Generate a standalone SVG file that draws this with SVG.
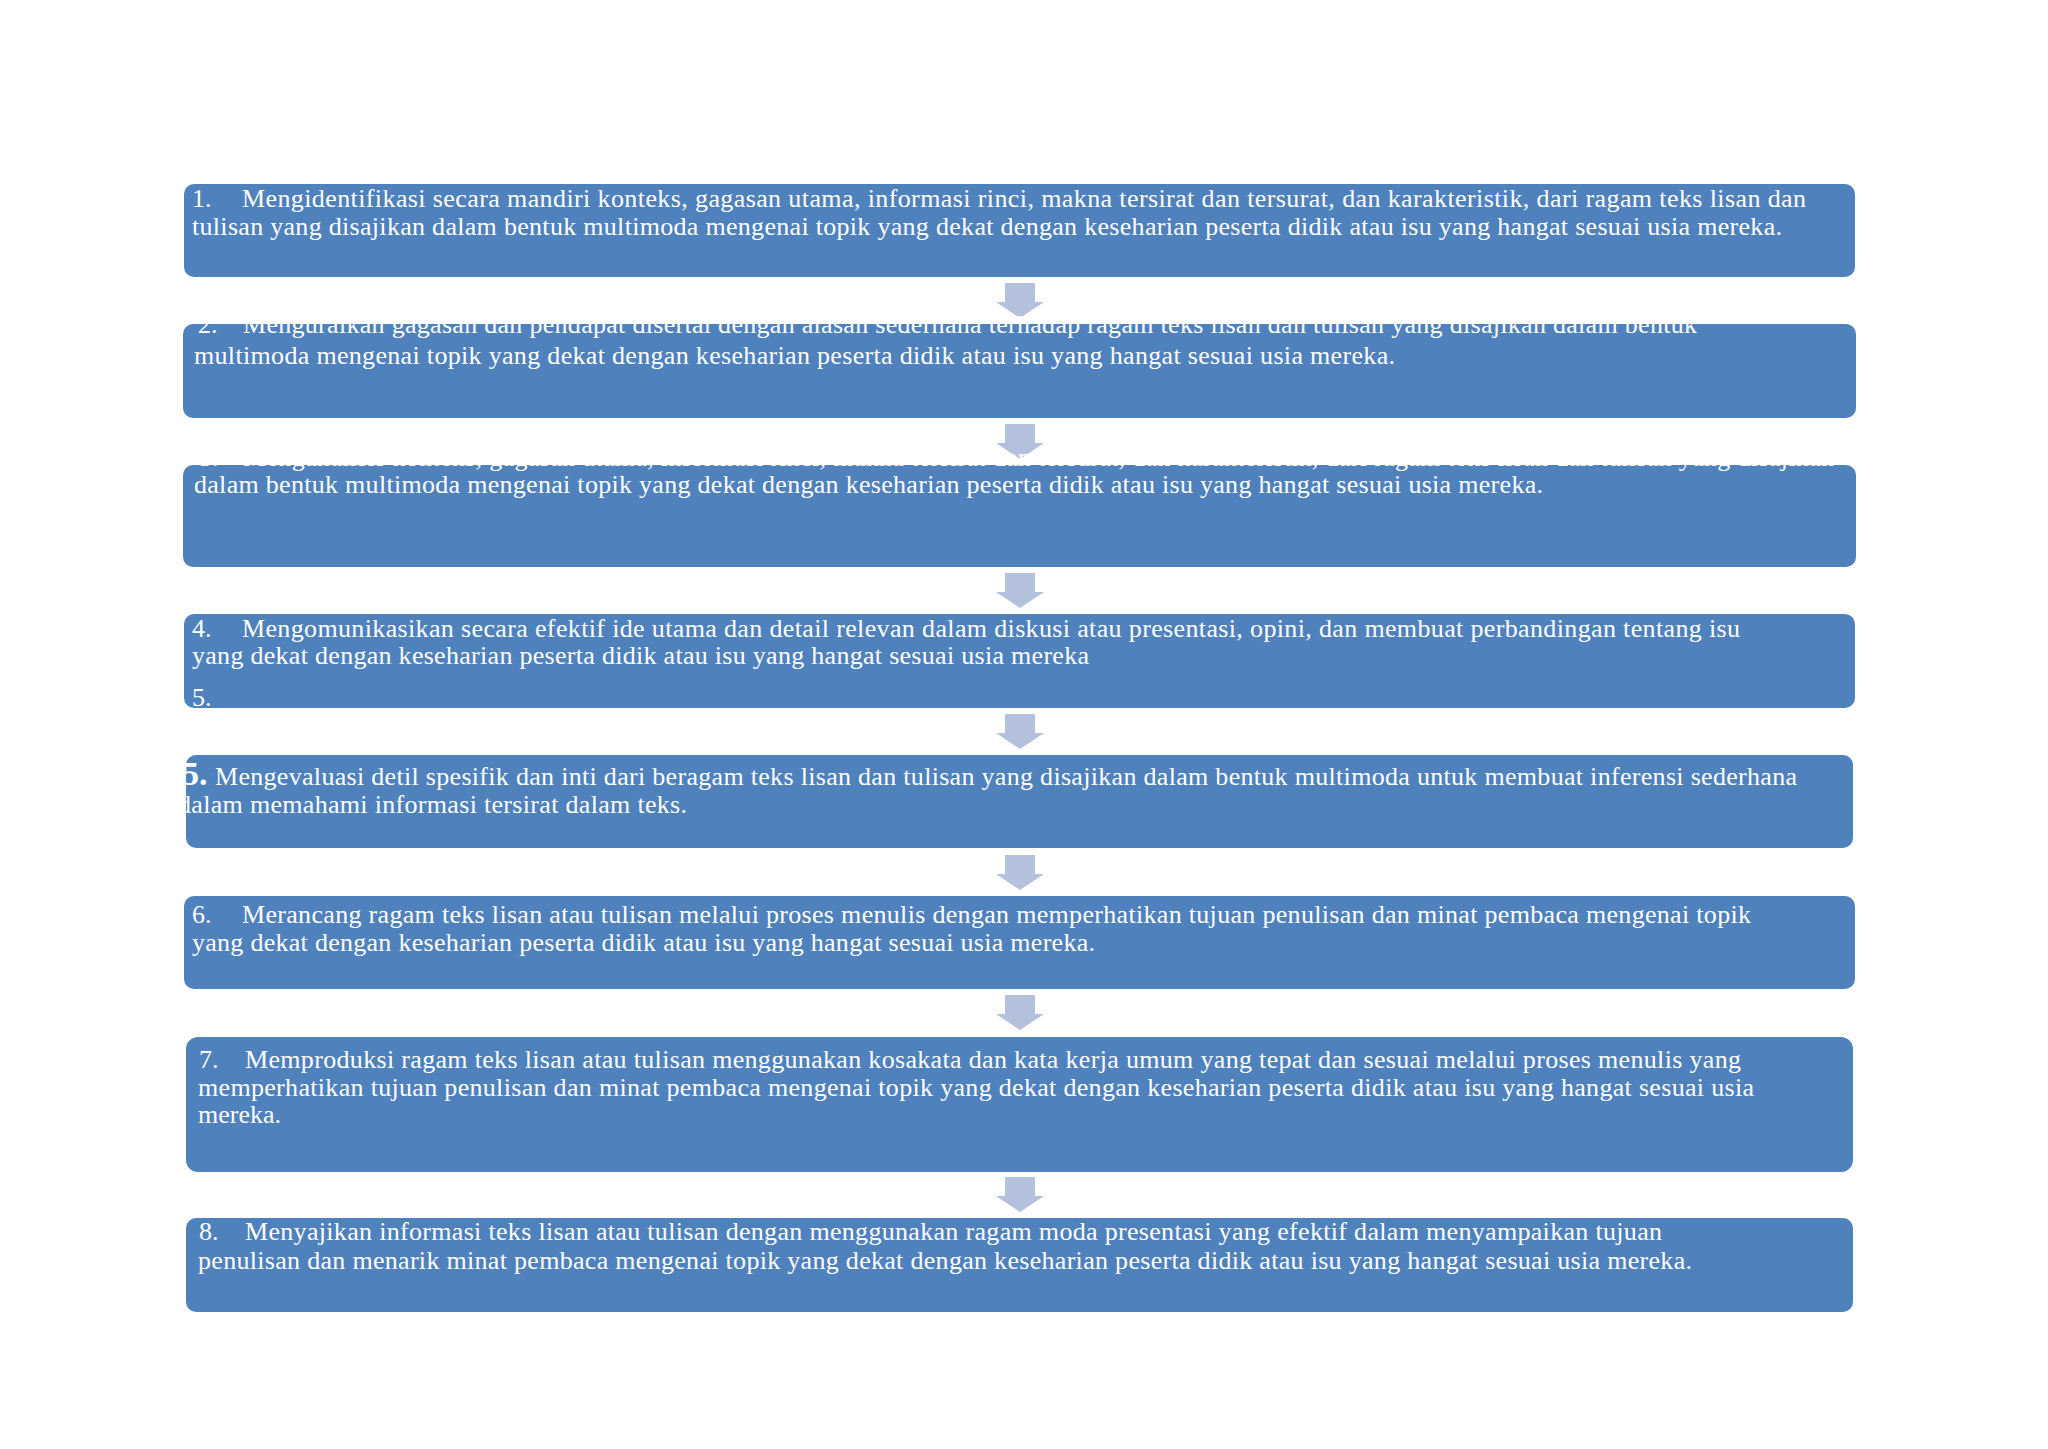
<svg xmlns="http://www.w3.org/2000/svg" width="2048" height="1449" viewBox="0 0 2048 1449">
<style>
.box{fill:#4F81BD;}
.t{font-family:"Liberation Serif","Times New Roman",serif;font-size:26px;fill:#FFFFFF;}
.num5{font-family:"Liberation Serif","Times New Roman",serif;font-size:34px;font-weight:bold;fill:#FFFFFF;}
.arrow{fill:#B4C1DD;}
</style>
<defs>
<path id="arr" d="M-15,0 H15 V19 H24 L0,35 L-24,19 H-15 Z"/>
</defs>
<rect width="2048" height="1449" fill="#FFFFFF"/>

<g id="connectors">
<use href="#arr" class="arrow" x="1020" y="283"/>
<use href="#arr" class="arrow" x="1020" y="424"/>
<use href="#arr" class="arrow" x="1020" y="573"/>
<use href="#arr" class="arrow" x="1020" y="714"/>
<use href="#arr" class="arrow" x="1020" y="855"/>
<use href="#arr" class="arrow" x="1020" y="995"/>
<use href="#arr" class="arrow" x="1020" y="1177"/>
</g>

<g id="node1">
<rect class="box" x="184" y="184" width="1671" height="93" rx="10"/>
<text class="t" x="192" y="207">1.</text>
<text class="t" x="242" y="207" textLength="1564" lengthAdjust="spacing">Mengidentifikasi secara mandiri konteks, gagasan utama, informasi rinci, makna tersirat dan tersurat, dan  karakteristik,  dari ragam teks lisan dan</text>
<text class="t" x="192" y="235" textLength="1590" lengthAdjust="spacing">tulisan yang disajikan dalam bentuk multimoda mengenai topik yang dekat dengan keseharian peserta didik atau isu yang hangat sesuai usia mereka.</text>
</g>

<g id="node2">
<rect class="box" x="183" y="324" width="1673" height="94" rx="10"/>
<text class="t" x="198" y="333">2.</text>
<text class="t" x="243" y="333" textLength="1454" lengthAdjust="spacing">Menguraikan gagasan dan pendapat disertai dengan alasan sederhana terhadap ragam teks lisan dan tulisan yang disajikan dalam bentuk</text>
<text class="t" x="194" y="364" textLength="1201" lengthAdjust="spacing">multimoda mengenai topik yang dekat dengan keseharian peserta didik atau isu yang hangat sesuai usia mereka.</text>
</g>

<g id="node3">
<rect class="box" x="183" y="465" width="1673" height="102" rx="10"/>
<text class="t" x="199" y="466">3.</text>
<text class="t" x="243" y="466" textLength="1591" lengthAdjust="spacing">Menganalisis konteks, gagasan utama, informasi rinci, makna tersirat dan tersurat, dan karakteristik, dari ragam teks lisan dan tulisan yang disajikan</text>
<text class="t" x="194" y="493" textLength="1349" lengthAdjust="spacing">dalam bentuk multimoda mengenai topik yang dekat dengan keseharian peserta didik atau isu yang hangat sesuai usia mereka.</text>
</g>

<g id="node4">
<rect class="box" x="184" y="614" width="1671" height="94" rx="10"/>
<text class="t" x="192" y="637">4.</text>
<text class="t" x="242" y="637" textLength="1498" lengthAdjust="spacing">Mengomunikasikan secara efektif ide utama dan detail relevan dalam  diskusi atau presentasi, opini, dan membuat perbandingan tentang isu</text>
<text class="t" x="192" y="664" textLength="897" lengthAdjust="spacing">yang dekat dengan keseharian peserta didik atau isu yang hangat sesuai usia mereka</text>
<text class="t" x="192" y="706">5.</text>
</g>

<g id="node5">
<rect class="box" x="186" y="755" width="1667" height="93" rx="10"/>
<text class="num5" x="182" y="785">5.</text>
<text class="t" x="215" y="785" textLength="1582" lengthAdjust="spacing">Mengevaluasi detil spesifik dan inti dari beragam teks lisan dan tulisan yang disajikan dalam bentuk multimoda untuk membuat inferensi sederhana</text>
<text class="t" x="178" y="813" textLength="509" lengthAdjust="spacing">dalam memahami informasi tersirat dalam teks.</text>
</g>

<g id="node6">
<rect class="box" x="184" y="896" width="1671" height="93" rx="10"/>
<text class="t" x="192" y="923">6.</text>
<text class="t" x="242" y="923" textLength="1509" lengthAdjust="spacing">Merancang ragam teks lisan atau tulisan melalui proses menulis dengan memperhatikan tujuan penulisan dan minat pembaca mengenai topik</text>
<text class="t" x="192" y="951" textLength="903" lengthAdjust="spacing">yang dekat dengan keseharian peserta didik atau isu yang hangat sesuai usia mereka.</text>
</g>

<g id="node7">
<rect class="box" x="186" y="1037" width="1667" height="135" rx="12"/>
<text class="t" x="199" y="1068">7.</text>
<text class="t" x="245" y="1068" textLength="1496" lengthAdjust="spacing">Memproduksi ragam teks lisan atau tulisan menggunakan kosakata dan kata kerja umum yang tepat dan sesuai melalui proses menulis yang</text>
<text class="t" x="198" y="1096" textLength="1556" lengthAdjust="spacing">memperhatikan tujuan penulisan dan minat pembaca mengenai topik yang dekat dengan keseharian peserta didik atau isu yang hangat sesuai usia</text>
<text class="t" x="198" y="1123">mereka.</text>
</g>

<g id="node8">
<rect class="box" x="186" y="1218" width="1667" height="94" rx="10"/>
<text class="t" x="199" y="1240">8.</text>
<text class="t" x="245" y="1240" textLength="1417" lengthAdjust="spacing">Menyajikan informasi teks lisan atau tulisan dengan menggunakan ragam moda presentasi yang efektif dalam menyampaikan tujuan</text>
<text class="t" x="198" y="1269" textLength="1494" lengthAdjust="spacing">penulisan dan menarik minat pembaca mengenai topik yang dekat dengan keseharian peserta didik atau isu yang hangat sesuai usia mereka.</text>
</g>
</svg>
